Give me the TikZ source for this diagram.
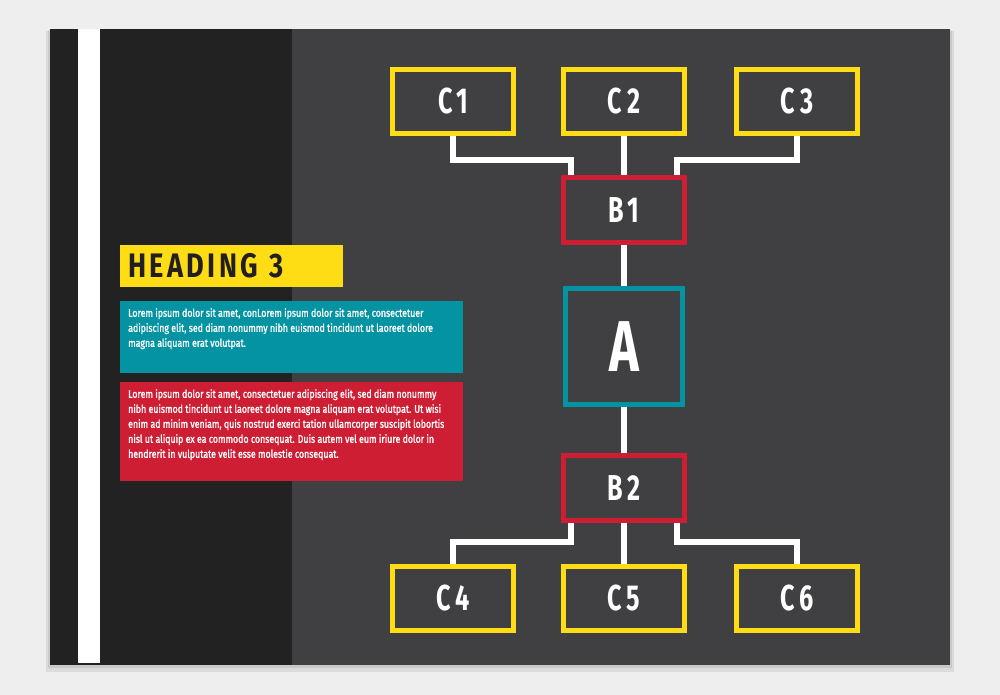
\documentclass[tikz,border=0pt]{standalone}
\usepackage{fontspec}
\setmainfont{Fira Sans}[FakeStretch=0.8]
\newfontfamily\parafont{Fira Sans}[FakeStretch=0.8, FakeBold=1.5]
\newfontfamily\labelfont{Fira Sans}[FakeStretch=0.7, LetterSpace=14]
\newfontfamily\headfont{Fira Sans}[FakeStretch=0.8, LetterSpace=10]
\usetikzlibrary{positioning}

\definecolor{pagegray}{HTML}{EEEEEE}
\definecolor{cardgray}{HTML}{404042}
\definecolor{stripdark}{HTML}{222222}
\definecolor{hyellow}{HTML}{FFDD15}
\definecolor{hred}{HTML}{CE1E33}
\definecolor{hteal}{HTML}{0493A3}
\definecolor{headink}{HTML}{231F20}

\begin{document}
\begin{tikzpicture}[x=1pt, y=-1pt,
  boxstyle/.style={
        draw,
        line width=5pt,
        minimum width=121pt,
        minimum height=64pt,
        text=white,
        font=\labelfont\bfseries\fontsize{36}{36}\selectfont
  },
  cbox/.style={boxstyle, draw=hyellow},
  bbox/.style={boxstyle, draw=hred, minimum height=65pt},
  abox/.style={boxstyle, draw=hteal, minimum width=117pt, minimum height=116pt,
        font=\labelfont\bfseries\fontsize{72}{72}\selectfont},
  link/.style={draw=white, line width=6pt},
  panel/.style={anchor=north west, inner sep=0pt, minimum width=343pt},
  para/.style={anchor=north west, inner sep=0pt, text=white, align=left,
        font=\parafont\fontsize{11}{15}\selectfont}
]

    \useasboundingbox (0,0) rectangle (1000,695);
    \fill[pagegray] (0,0) rectangle (1000,695);
    \fill[black, opacity=0.08] (46,31) rectangle (954,672);
    \fill[black, opacity=0.08] (48,30) rectangle (952,668);

    % page
    \fill[cardgray] (50,29) rectangle (950,665);
    \fill[stripdark] (50,29) rectangle (292,665);
    \fill[white] (78,29) rectangle (100,663);

    % text column
    \node[fill=hyellow, anchor=north west, inner xsep=8pt, inner ysep=0pt,
          minimum height=42pt, text width=207pt, align=left, text=headink,
          font=\headfont\bfseries\fontsize{34}{34}\selectfont] (head) at (120,245) {HEADING 3};
    \node[panel, fill=hteal, minimum height=72pt] (tealbox) at (120,301) {};
    \node[para, below right=7pt and 8pt of tealbox.north west] (tealtext)
    {Lorem ipsum dolor sit amet, conLorem ipsum dolor sit amet, consectetuer\\
     adipiscing elit, sed diam nonummy nibh euismod tincidunt ut laoreet dolore\\
     magna aliquam erat volutpat.};
    \node[panel, fill=hred, minimum height=99pt] (redbox) at (120,382) {};
    \node[para, below right=7pt and 8pt of redbox.north west] (redtext)
    {Lorem ipsum dolor sit amet, consectetuer adipiscing elit, sed diam nonummy\\
     nibh euismod tincidunt ut laoreet dolore magna aliquam erat volutpat. Ut wisi\\
     enim ad minim veniam, quis nostrud exerci tation ullamcorper suscipit lobortis\\
     nisl ut aliquip ex ea commodo consequat. Duis autem vel eum iriure dolor in\\
     hendrerit in vulputate velit esse molestie consequat.};

    % chart
    \node[abox] (A) at (624,346.5) {A};
    \node[bbox, above=41pt of A] (B1) {B1};
    \node[bbox, below=46pt of A] (B2) {B2};
    \node[cbox, above=39pt of B1] (C2) {C2};
    \node[cbox, left=45pt of C2] (C1) {C1};
    \node[cbox, right=47pt of C2] (C3) {C3};
    \node[cbox, below=41pt of B2] (C5) {C5};
    \node[cbox, left=45pt of C5] (C4) {C4};
    \node[cbox, right=47pt of C5] (C6) {C6};

    \draw[link] (C1.south) -- ++(0,24) -| ([xshift=10pt]B1.north west);
    \draw[link] (C2) -- (B1);
    \draw[link] (C3.south) -- ++(0,24) -| ([xshift=-10pt]B1.north east);
    \draw[link] (B1) -- (A);
    \draw[link] (A) -- (B2);
    \draw[link] ([xshift=10pt]B2.south west) -- ++(0,19) -| (C4.north);
    \draw[link] (B2) -- (C5);
    \draw[link] ([xshift=-10pt]B2.south east) -- ++(0,19) -| (C6.north);
\end{tikzpicture}
\end{document}
